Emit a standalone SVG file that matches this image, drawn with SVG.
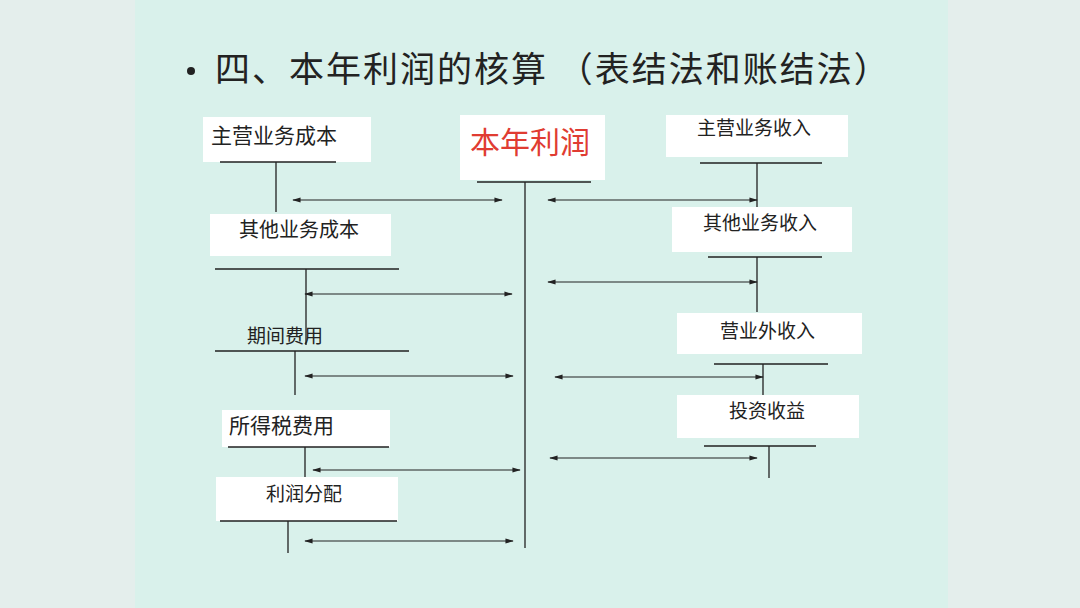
<svg xmlns="http://www.w3.org/2000/svg" width="1080" height="608" viewBox="0 0 1080 608">
<style>
.t{font-family:"Noto Sans CJK SC","Liberation Sans",sans-serif;fill:#222}
.b{fill:#fff}
.l{stroke:#222;stroke-width:1.3;fill:none}
.a{stroke:#222;stroke-width:1.2;fill:none;marker-start:url(#h);marker-end:url(#h)}
</style>
<defs><marker id="h" viewBox="0 0 10 10" refX="9" refY="5" markerWidth="7" markerHeight="7" orient="auto-start-reverse"><path d="M0,2 L10,5 L0,8 z" fill="#222"/></marker></defs>
<rect width="1080" height="608" fill="#e4eeec"/>
<rect x="135" y="0" width="813" height="608" fill="#d9f1eb"/>
<g id="title"><circle cx="191" cy="71" r="4" fill="#222"/><text class="t" x="215" y="82" font-size="35" letter-spacing="2">四、本年利润的核算 （表结法和账结法）</text></g>
<g id="benniánlirun"><rect class="b" x="460" y="115" width="145" height="65"/><text class="t" x="470" y="153" font-size="30" style="fill:#e03c32">本年利润</text><path class="l" d="M477 182H591M525 182V548"/></g>
<g id="n1"><rect class="b" x="203" y="117" width="168" height="45"/><text class="t" x="211" y="143" font-size="21">主营业务成本</text><path class="l" d="M220 162H336M276 162V212"/></g>
<g id="n2"><rect class="b" x="210" y="214" width="181" height="42"/><text class="t" x="239" y="237" font-size="20">其他业务成本</text><path class="l" d="M215 269H399M306 269V345"/></g>
<g id="n3"><text class="t" x="247" y="343" font-size="19">期间费用</text><path class="l" d="M215 351H409M295 351V395"/></g>
<g id="n4"><rect class="b" x="222" y="410" width="168" height="37"/><text class="t" x="229" y="433" font-size="21">所得税费用</text><path class="l" d="M228 447H389M305 447V478"/></g>
<g id="n5"><rect class="b" x="216" y="477" width="182" height="44"/><text class="t" x="266" y="501" font-size="19">利润分配</text><path class="l" d="M220 521H397M288 521V553"/></g>
<g id="n6"><rect class="b" x="666" y="115" width="182" height="42"/><text class="t" x="697" y="135" font-size="19">主营业务收入</text><path class="l" d="M700 163H822M757 163V207"/></g>
<g id="n7"><rect class="b" x="672" y="207" width="180" height="45"/><text class="t" x="703" y="230" font-size="19">其他业务收入</text><path class="l" d="M708 257H822M757 257V312"/></g>
<g id="n8"><rect class="b" x="677" y="313" width="185" height="41"/><text class="t" x="720" y="338" font-size="19">营业外收入</text><path class="l" d="M714 364H828M763 364V395"/></g>
<g id="n9"><rect class="b" x="677" y="395" width="182" height="43"/><text class="t" x="729" y="418" font-size="19">投资收益</text><path class="l" d="M704 446H816M769 446V478"/></g>
<g id="connectors">
<path class="a" d="M293 200H502"/><path class="a" d="M305 294H512"/><path class="a" d="M305 376H513"/><path class="a" d="M313 470H520"/><path class="a" d="M305 541H513"/>
<path class="a" d="M548 200H757"/><path class="a" d="M548 282H757"/><path class="a" d="M555 377H763"/><path class="a" d="M550 458H757"/>
</g>
</svg>
